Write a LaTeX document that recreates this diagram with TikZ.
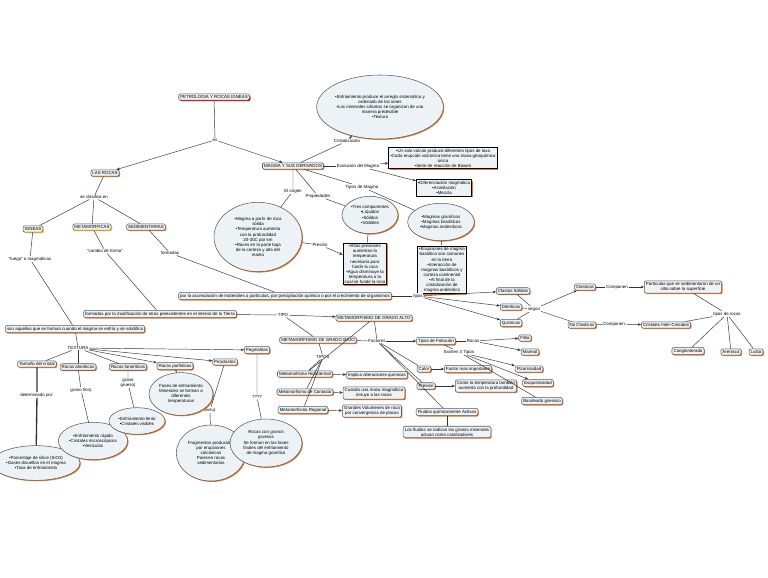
\documentclass[tikz,border=0pt]{standalone}
\usepackage{fontspec}
\setmainfont{Liberation Sans}
\usetikzlibrary{shapes.geometric,shadows,arrows.meta}
\definecolor{bf}{HTML}{EDF2F6}
\definecolor{sh}{HTML}{E8782A}
\tikzset{
 x=0.75pt,y=-0.75pt,
 every node/.style={font=\fontsize{3.3}{3.8}\selectfont,inner sep=1.2pt},
 box/.style={draw=gray!70!black,fill=bf,rounded corners=1.5pt,align=center,drop shadow={fill=sh,opacity=1,shadow xshift=0.7pt,shadow yshift=-0.7pt}},
 ybox/.style={box,drop shadow={fill=yellow!80!orange,opacity=1,shadow xshift=0.7pt,shadow yshift=-0.7pt}},
 rbox/.style={box,drop shadow={fill=red!85!black,opacity=1,shadow xshift=0.8pt,shadow yshift=-0.8pt}},
 ell/.style={ellipse,draw=gray!70!black,fill=bf,align=center,inner sep=0pt,drop shadow={fill=sh,opacity=1,shadow xshift=0.7pt,shadow yshift=-0.7pt}},
 dbox/.style={draw=black,line width=0.7pt,fill=bf,align=center,drop shadow={fill=sh,opacity=1,shadow xshift=0.7pt,shadow yshift=-0.7pt}},
 lab/.style={fill=white,inner sep=0.5pt},
 ln/.style={draw=gray!40!black,line width=0.35pt},
 ar/.style={ln,-{Stealth[length=2.5pt,width=2pt]}},
}
\begin{document}
\begin{tikzpicture}
\useasboundingbox[fill=white] (0,0) rectangle (768,578);
% top
\node[rbox] (title) at (214,97) {PETROLOGIA Y ROCAS IGNEAS};
\node[lab] (es) at (215,140) {es};
\node[box] (rocas) at (105,173) {LAS ROCAS};
\node[box,line width=0.5pt] (magma) at (293,166) {MAGMA Y SUS DERIVADOS};
\node[lab] (secl) at (94,197) {se clasifica en};
\node[ybox] (ign) at (33,229) {IGNEAS};
\node[ybox] (meta) at (92,227) {METAMORFICAS};
\node[box] (sed) at (146,227) {SEDIMENTARIAS};
\node[lab] (fuego) at (30,259) {"fuego" o magmáticas};
\node[lab] (camb) at (105,251) {"cambio de forma"};
\node[lab] (form) at (170,253) {formadas};
% magma branch
\node[ell,minimum width=90pt,minimum height=48pt] (cryst) at (380,107) {•Enfriamiento produce el arreglo sistemático y\\ordenado de los iones\\•Los minerales silicatos se organizan de una\\manera predecible\\•Textura};
\node[lab] (cri) at (347,141) {Cristalización};
\node[lab] (evo) at (358,166) {Evolución del Magma};
\node[dbox] (d1) at (443,158) {•Un solo volcán produce diferentes tipos de lava\\•Cada erupción volcánica tiene una masa geoquímica\\única\\•Serie de reacción de Bowen};
\node[dbox] (d2) at (444,188) {•Diferenciación magmática\\•Asimilación\\•Mezcla};
\node[lab] (tmag) at (362,187) {Tipos de Magma};
\node[lab] (ori) at (293,191) {El origen};
\node[lab] (prop) at (318,196) {Propiedades};
\node[ell,minimum width=66pt,minimum height=52pt] (eori) at (258,237) {•Magma a partir de roca\\sólida\\•Temperatura aumenta\\con la profundidad\\20-30C por km\\•Roces en la parte baja\\de la corteza y alta del\\manto};
\node[ell,minimum width=42pt,minimum height=28pt] (eprop) at (370,215) {•Tres componentes\\•Líquidos\\•Sólidos\\•Volátiles};
\node[ell,minimum width=50pt,minimum height=28pt] (etyp) at (441,222) {•Magmas graníticos\\•Magmas basálticos\\•Magmas andesíticos};
\node[dbox] (dprop) at (365,264) {•Altas presiones\\aumentan la\\temperatura\\necesaria para\\fundir la roca\\•Agua disminuye la\\temperatura a la\\cual se funde la roca};
\node[lab] (pres) at (320,245) {Presión};
\node[dbox] (dtyp) at (442,270) {•Erupciones de magma\\basáltico son comunes\\en la tierra\\•Interacción de\\magmas basálticos y\\corteza continental\\•Al final de la\\cristalización de\\magma andesítico};
% long boxes
\node[box] (tsed) at (285,296) {por la acumulación de materiales o partículas, por precipitación química o por el crecimiento de organismos};
\node[lab] (tipos) at (418,296) {tipos};
\node[box] (tmeta) at (160,314) {formadas por la modificación de otras preexistentes en el interior de la Tierra};
\node[lab] (tipo) at (283,315) {TIPO};
\node[box] (tign) at (75,329) {son aquellas que se forman cuando el magma se enfría y se solidifica};
% sedimentary
\node[box] (cs) at (513,291) {Clastos Sólidos};
\node[box] (det) at (511,307) {Detriticos};
\node[box] (qui) at (511,323) {Quimicas};
\node[lab] (seg) at (534,309) {según};
\node[box] (cla) at (585,287) {Clasticas};
\node[box] (ncla) at (582,325) {No Clasticas};
\node[lab] (c1) at (617,287) {Componen};
\node[lab] (c2) at (614,324) {Componen};
\node[box] (part) at (683,287) {Partículas que se sedimentaron de un\\sitio sobre la superficie};
\node[box] (cic) at (666,325) {Cristales Inter-Crecidos};
\node[lab] (tr) at (727,314) {tipos de rocas};
\node[box] (cong) at (688,351) {Conglomerado};
\node[box] (aren) at (731,352) {Arenisca};
\node[box] (lut) at (756,352) {Lutita};
% metamorphic
\node[box] (alto) at (374,318) {METAMORFISMO DE GRADO ALTO};
\node[box] (bajo) at (318,340) {METAMORFISMO DE GRADO BAJO};
\node[lab] (fac) at (377,341) {Factores};
\node[box] (tfol) at (436,341) {Tipos de Foliación};
\node[lab] (roc) at (473,341) {Rocas};
\node[box] (fil) at (525,338) {Filita};
\node[box] (mar) at (530,352) {Marmol};
\node[lab] (ex3) at (459,352) {Existen 3 Tipos};
\node[box] (piz) at (529,369) {Pizarrosidad};
\node[box] (esq) at (538,383) {Esquistosidad};
\node[box] (ban) at (542,401) {Bandeado gneisico};
\node[box] (cal) at (424,369) {Calor};
\node[box] (fmi) at (468,369) {Factor mas importante};
\node[box] (pre) at (426,386) {Presión};
\node[box] (ctp) at (486,386) {Como la temperatura también\\aumenta con la profundidad};
\node[box] (flu) at (447,412) {Fluidos químicamente Activos};
\node[box] (lfl) at (447,432) {Los fluidos se radican los granos minerales\\actuan como catalizadores};
\node[lab] (tps) at (323,357) {TIPOS};
\node[box] (hid) at (305,374) {Metamorfismo Hidrotermal};
\node[box] (con) at (305,392) {Metamorfismo de Contacto};
\node[box] (reg) at (303,410) {Metamorfismo Regional};
\node[box] (iac) at (377,375) {Implica alteraciones químicas};
\node[box] (cum) at (374,393) {Cuando una masa magmática\\intruye a las rocas};
\node[box] (gvr) at (372,411) {Grandes Volumenes de roca\\por convergencia de placas};
% igneous
\node[lab] (tex) at (78,348) {TEXTURA};
\node[box] (tam) at (37,364) {Tamaño del cristal};
\node[box] (afa) at (78,367) {Rocas afaníticas};
\node[box] (fan) at (128,367) {Rocas faneríticas};
\node[box] (por) at (175,366) {Rocas porfídicas};
\node[box] (piro) at (225,362) {Piroclastos};
\node[box] (peg) at (257,350) {Pegmatitas};
\node[lab] (det2) at (37,395) {determinado por:};
\node[lab] (gf) at (81,390) {grano fino)};
\node[lab,align=center] (gg) at (128,383) {grano\\grueso)};
\node[lab] (tx) at (210,410) {textu)};
\node[lab] (gr2) at (257,397) {????};
\node[ell,minimum width=66pt,minimum height=26pt] (epor2) at (36,463) {•Porcentaje de sílice (SiO2)\\•Gases disueltos en el magma\\•Tasa de enfriamiento};
\node[ell,minimum width=52pt,minimum height=28pt] (eafa) at (93,441) {•Enfriamiento rápido\\•Cristales microscópicos\\•Vesículos};
\node[ell,minimum width=42pt,minimum height=20pt] (efan) at (137,421) {•Enfriamiento lento\\•Cristales visibles};
\node[ell,minimum width=48pt,minimum height=32pt] (epor) at (181,394) {Fases de enfriamiento\\Minerales se forman a\\diferentes\\temperaturas};
\node[ell,minimum width=52pt,minimum height=42pt] (epiro) at (211,453) {Fragmentos producidos\\por erupciones\\volcánicas\\Parecen rocas\\sedimentarias};
\node[ell,minimum width=54pt,minimum height=36pt] (epeg) at (266,443) {Rocas con granos\\gruesos\\Se forman en las fases\\finales del enfriamiento\\de magma granítico};
% edges
\draw[ln] (title) -- (es);
\draw[ar] (es) -- (rocas);
\draw[ar] (es) -- (magma);
\draw[ln] (rocas) -- (secl);
\draw[ln] (secl) -- (ign); \draw[ln] (secl) -- (meta); \draw[ln] (secl) -- (sed);
\draw[ln] (ign) -- (fuego) -- (tign);
\draw[ln] (meta) -- (camb) -- (tmeta);
\draw[ln] (sed) -- (form) -- (tsed);
\draw[ln] (magma) -- (cri); \draw[ar] (cri) -- (cryst);
\draw[ln] (magma) -- (evo); \draw[ar] (evo) -- (d1); \draw[ar] (evo) -- (d2);
\draw[ln] (magma) -- (tmag) -- (etyp);
\draw[ln] (magma) -- (ori) -- (eori);
\draw[ln] (magma) -- (prop) -- (eprop);
\draw[ln] (eori) -- (pres); \draw[ar] (pres) -- (dprop);
\draw[ln] (eprop) -- (dprop);
\draw[ln] (etyp) -- (dtyp);
\draw[ln] (tsed) -- (tipos); \draw[ar] (tipos) -- (cs); \draw[ar] (tipos) -- (det); \draw[ar] (tipos) -- (qui);
\draw[ln] (cs) -- (seg); \draw[ln] (det) -- (seg); \draw[ln] (qui) -- (seg);
\draw[ar] (seg) -- (cla); \draw[ln] (seg) -- (ncla);
\draw[ln] (cla) -- (c1); \draw[ar] (c1) -- (part);
\draw[ln] (ncla) -- (c2); \draw[ar] (c2) -- (cic);
\draw[ln] (part) -- (tr); \draw[ln] (cic) -- (tr);
\draw[ln] (tr) -- (cong); \draw[ln] (tr) -- (aren); \draw[ln] (tr) -- (lut);
\draw[ln] (tmeta) -- (tipo); \draw[ar] (tipo) -- (alto); \draw[ln] (tipo) -- (bajo);
\draw[ln] (alto) -- (fac); \draw[ln] (bajo) -- (fac);
\draw[ar] (fac) -- (tfol); \draw[ln] (fac) -- (cal); \draw[ln] (fac) -- (pre); \draw[ln] (fac) -- (flu);
\draw[ln] (tfol) -- (roc); \draw[ar] (roc) -- (fil); \draw[ar] (roc) -- (mar);
\draw[ln] (tfol) -- (ex3); \draw[ar] (ex3) -- (piz); \draw[ar] (ex3) -- (esq); \draw[ln] (ex3) -- (ban);
\draw[ar] (cal) -- (fmi); \draw[ar] (pre) -- (ctp); \draw[ln] (flu) -- (lfl);
\draw[ln] (bajo) -- (tps); \draw[ln] (alto) -- (hid);
\draw[ln] (tps) -- (hid); \draw[ln] (tps) -- (con); \draw[ln] (tps) -- (reg);
\draw[ar] (hid) -- (iac); \draw[ar] (con) -- (cum); \draw[ar] (reg) -- (gvr);
\draw[ln] (tign) -- (tex);
\draw[ln] (tex) -- (tam); \draw[ln] (tex) -- (afa); \draw[ln] (tex) -- (fan);
\draw[ar] (tex) -- (por); \draw[ar] (tex) -- (piro); \draw[ar] (tex) -- (peg);
\draw[ln,line width=1pt] (tam) -- (det2) -- (epor2);
\draw[ln] (afa) -- (gf) -- (eafa);
\draw[ln] (fan) -- (gg) -- (efan);
\draw[ln,line width=0.7pt] (por) -- (epor);
\draw[ln] (piro) -- (tx) -- (epiro);
\draw[ln] (peg) -- (gr2) -- (epeg);
\end{tikzpicture}
\end{document}
